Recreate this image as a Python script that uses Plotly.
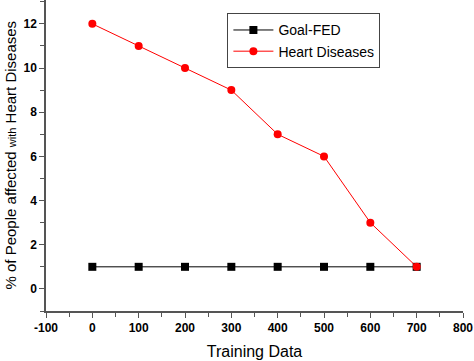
import plotly.graph_objects as go

training = [0, 100, 200, 300, 400, 500, 600, 700]
goal_fed = [1, 1, 1, 1, 1, 1, 1, 1]
heart = [12, 11, 10, 9, 7, 6, 3, 1]
x_ticks = [-100, 0, 100, 200, 300, 400, 500, 600, 700, 800]
x_tick_labels = ["-100", "0", "100", "200", "300", "400", "500", "600", "700", "800"]
y_ticks = [0, 2, 4, 6, 8, 10, 12]
y_title = "% of People affected <span style='font-size:11px'>with</span> Heart Diseases"

fig = go.Figure()
fig.add_trace(go.Scatter(x=training, y=goal_fed, mode="lines+markers", name="Goal-FED",
                         line=dict(color="black", width=1),
                         marker=dict(symbol="square", size=8, color="black")))
fig.add_trace(go.Scatter(x=training, y=heart, mode="lines+markers", name="Heart Diseases",
                         line=dict(color="red", width=1),
                         marker=dict(symbol="circle", size=8, color="red")))

tickfont = dict(size=12, family="Liberation Sans, Arial", weight="bold", color="black")
fig.update_layout(
    width=474, height=361,
    margin=dict(l=46, r=11, t=0, b=50, autoexpand=False),
    paper_bgcolor="white", plot_bgcolor="white",
    font=dict(family="Liberation Sans, Arial", color="black"),
    legend=dict(x=0.435, y=0.957, xanchor="left", yanchor="top",
                bordercolor="#444", borderwidth=1, bgcolor="white",
                font=dict(size=14), tracegroupgap=0, itemwidth=40),
    xaxis=dict(range=[-100, 800], tickvals=x_ticks, ticktext=x_tick_labels,
               showgrid=False, zeroline=False, automargin=False,
               showline=True, linecolor="#555", linewidth=1.5, ticks="outside", ticklen=5,
               tickcolor="#555",
               minor=dict(ticks="outside", ticklen=4, dtick=50, tickcolor="#555"),
               tickfont=tickfont,
               title=dict(text="Training Data", font=dict(size=16), standoff=12)),
    yaxis=dict(range=[-1, 13.08], tickvals=y_ticks, showgrid=False, zeroline=False,
               automargin=False,
               showline=True, linecolor="#555", linewidth=1.5, ticks="outside", ticklen=5,
               tickcolor="#555",
               minor=dict(ticks="outside", ticklen=4, dtick=1, tickcolor="#555"),
               tickfont=tickfont),
    annotations=[dict(text=y_title, xref="paper", yref="paper", x=0, y=0.5,
                      xshift=-36, xanchor="center", yanchor="middle", textangle=-90,
                      showarrow=False, font=dict(size=15, color="black"))],
)
fig.write_html("out.html", config={"displayModeBar": False},
               post_script="document.body.style.margin='0';document.body.style.overflow='hidden';")
